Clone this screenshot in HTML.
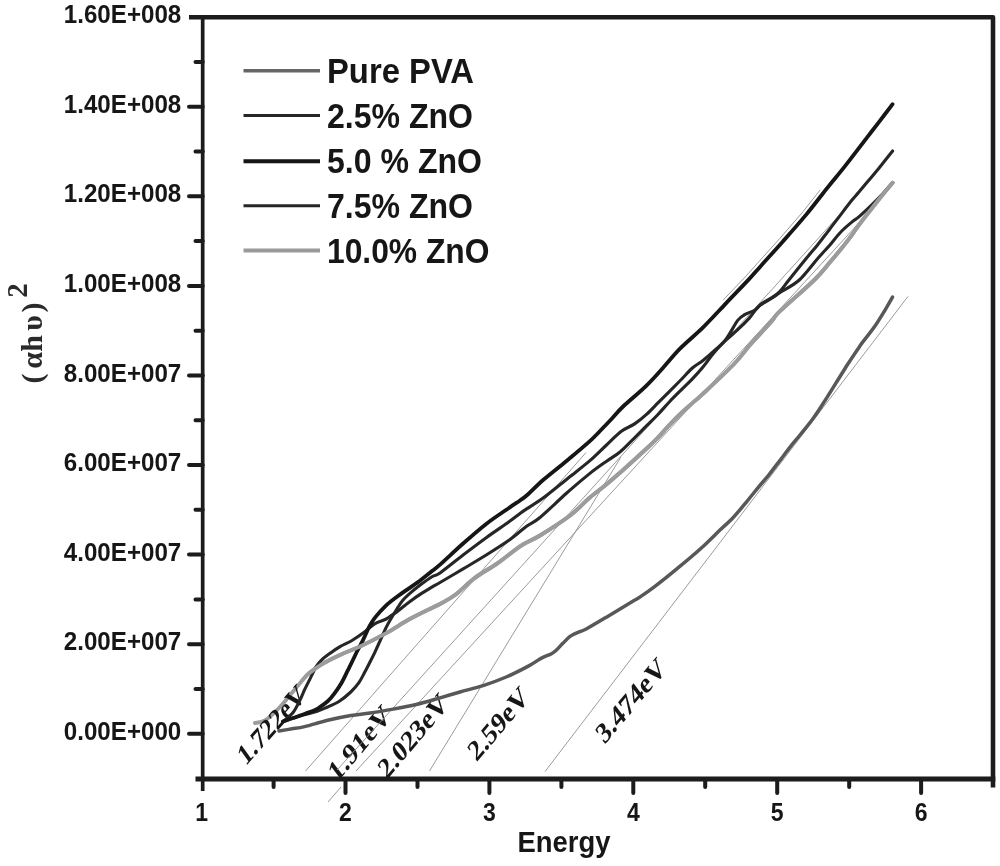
<!DOCTYPE html>
<html lang="en">
<head>
<meta charset="utf-8">
<title>Tauc plot</title>
<style>
html,body{margin:0;padding:0;background:#fff;}
body{width:1000px;height:866px;overflow:hidden;}
svg{display:block;}
</style>
</head>
<body>
<svg width="1000" height="866" viewBox="0 0 1000 866">
<rect width="1000" height="866" fill="#fff"/>
<g filter="url(#soft)">
<path d="M255.0 723.0C256.7 722.6 260.8 723.2 265.0 720.5C269.2 717.8 274.8 712.4 280.0 707.0C285.2 701.6 291.3 693.5 296.0 688.0C300.7 682.5 303.8 678.0 308.1 674.0C312.4 670.0 316.7 667.4 322.0 664.2C327.3 661.0 333.7 658.0 340.0 655.0C346.3 652.0 352.3 650.1 360.0 646.5C367.7 642.9 378.0 637.6 386.2 633.1C394.4 628.6 401.6 623.5 409.3 619.3C417.0 615.1 427.3 610.2 432.4 607.7C437.5 605.2 436.2 606.1 440.0 604.0C443.8 601.9 449.2 599.3 455.0 595.0C460.8 590.7 467.5 583.4 474.6 578.1C481.7 572.8 490.0 568.5 497.7 563.1C505.4 557.7 513.8 550.4 520.8 545.8C527.8 541.2 531.7 540.6 540.0 535.5C548.3 530.4 562.6 521.2 570.8 515.0C579.0 508.8 583.3 503.2 589.3 498.1C595.3 493.0 601.5 488.5 606.6 484.3C611.7 480.1 613.6 478.4 620.0 472.7C626.4 467.0 638.7 455.8 645.0 450.0C651.3 444.2 653.7 441.9 657.7 437.8C661.8 433.7 665.4 429.2 669.3 425.1C673.1 421.1 676.9 417.2 680.8 413.5C684.6 409.8 688.9 406.2 692.4 403.1C695.9 400.0 695.2 401.1 702.0 394.7C708.8 388.3 725.2 373.1 733.1 365.0C741.0 356.9 744.7 351.1 749.3 345.8C753.9 340.5 756.9 337.3 760.8 333.1C764.6 328.9 769.2 324.0 772.4 320.4C775.6 316.8 773.0 317.9 780.0 311.2C787.0 304.5 806.1 288.0 814.3 280.0C822.5 272.0 824.9 268.2 829.3 263.1C833.7 258.0 836.9 254.1 840.8 249.3C844.6 244.5 849.2 238.6 852.4 234.3C855.6 230.0 855.1 229.9 860.0 223.5C864.9 217.1 876.2 202.8 881.6 196.0C887.0 189.2 890.8 185.0 892.6 182.8" stroke="#9c9c9c" stroke-width="3.9" fill="none" stroke-linecap="round"/>
<g font-family="'Liberation Serif', 'Times New Roman', serif" font-weight="700" fill="#161616" font-size="26">
<text transform="translate(276.4 731.8) rotate(-48.4) skewX(-13)" x="0" y="0" text-anchor="middle" textLength="92.0" lengthAdjust="spacingAndGlyphs">1.722eV</text>
<text transform="translate(364.5 750.3) rotate(-50.0) skewX(-13)" x="0" y="0" text-anchor="middle" textLength="86.0" lengthAdjust="spacingAndGlyphs">1.91eV</text>
<text transform="translate(418.0 743.0) rotate(-50.0) skewX(-13)" x="0" y="0" text-anchor="middle" textLength="97.0" lengthAdjust="spacingAndGlyphs">2.023eV</text>
<text transform="translate(503.2 730.8) rotate(-50.0) skewX(-13)" x="0" y="0" text-anchor="middle" textLength="83.0" lengthAdjust="spacingAndGlyphs">2.59eV</text>
<text transform="translate(635.8 707.5) rotate(-50.0) skewX(-13)" x="0" y="0" text-anchor="middle" textLength="97.6" lengthAdjust="spacingAndGlyphs">3.474eV</text>
</g>
<g fill="none" stroke="#909090" stroke-width="0.9">
<path d="M305.5 771.0 L586.0 452.6"/>
<path d="M723.0 300.2 L746.1 276.0 L756.8 264.0 L779.9 238.3 L803.0 211.7 L820.3 189.8"/>
<path d="M337.0 770.0 L850.0 203.3"/>
<path d="M328.0 802.0 L341.0 787.0"/>
<path d="M356.0 771.0 L870.0 210.9"/>
<path d="M429.5 771.0 L621.0 456.9"/>
<path d="M545.0 771.6 L908.0 296.4"/>
</g>
<g fill="none" stroke-linecap="round" stroke-linejoin="round">
<path d="M279.0 731.0C281.2 730.6 287.7 729.5 292.0 728.8C296.3 728.1 298.7 728.0 304.6 726.6C310.6 725.2 320.0 722.1 327.7 720.2C335.4 718.4 343.8 716.7 350.8 715.5C357.9 714.3 362.9 714.2 370.0 713.1C377.1 712.0 385.4 710.5 393.1 709.1C400.8 707.7 408.5 706.3 416.2 704.5C423.9 702.7 432.0 700.2 439.3 698.1C446.6 696.0 452.7 694.1 460.0 692.0C467.3 689.9 475.4 688.1 483.1 685.6C490.8 683.1 498.5 680.3 506.2 677.0C513.9 673.7 523.5 668.7 529.3 665.6C535.1 662.5 537.3 660.4 541.0 658.4C544.7 656.4 548.8 655.2 551.5 653.7C554.2 652.2 555.1 651.3 557.0 649.5C558.9 647.7 560.9 645.3 563.1 643.1C565.3 640.9 567.5 638.2 570.0 636.4C572.5 634.6 575.3 633.5 578.0 632.3C580.7 631.1 581.0 631.8 586.2 629.0C591.4 626.2 601.6 620.0 609.3 615.4C617.0 610.8 627.3 604.7 632.4 601.6C637.5 598.5 636.3 599.5 640.0 597.0C643.7 594.5 648.3 591.4 654.6 586.6C660.9 581.8 670.0 574.5 677.7 568.1C685.4 561.8 693.8 554.9 700.8 548.5C707.8 542.1 714.8 535.0 720.0 530.0C725.2 525.0 727.9 523.1 732.3 518.5C736.7 513.9 742.0 507.4 746.2 502.3C750.4 497.2 753.9 492.8 757.7 488.1C761.6 483.4 765.4 479.1 769.3 474.3C773.1 469.5 776.9 464.3 780.8 459.3C784.6 454.3 789.2 448.2 792.4 444.2C795.6 440.1 796.5 439.3 800.0 435.0C803.5 430.7 809.0 424.1 813.1 418.5C817.2 412.9 820.8 407.2 824.6 401.2C828.5 395.2 832.4 388.9 836.2 382.7C840.1 376.5 843.9 370.2 847.7 364.2C851.6 358.2 856.7 350.7 859.3 346.9C861.9 343.1 860.5 345.0 863.1 341.6C865.7 338.2 870.8 332.2 874.6 326.6C878.5 321.0 883.2 313.0 886.2 308.1C889.2 303.2 891.5 298.9 892.5 297.1" stroke="#585858" stroke-width="3.5"/>
<path d="M283.0 721.5C284.7 720.0 290.3 716.1 293.1 712.5C295.9 708.9 298.1 703.8 300.0 700.0C301.9 696.2 302.9 693.4 304.6 689.7C306.3 686.1 308.5 682.0 310.4 678.1C312.3 674.2 314.3 669.7 316.2 666.6C318.1 663.5 320.1 661.5 322.0 659.6C323.9 657.7 324.8 657.1 327.7 655.0C330.6 652.9 335.7 649.1 339.6 646.8C343.5 644.5 347.3 643.3 351.2 641.0C355.1 638.7 359.2 636.0 363.1 633.1C367.0 630.2 370.8 626.2 374.6 623.9C378.5 621.5 383.3 620.5 386.2 619.0C389.1 617.5 390.1 616.3 392.0 615.0C393.9 613.7 394.8 613.4 397.7 611.2C400.6 609.0 405.4 604.9 409.3 602.0C413.2 599.1 417.0 596.4 420.8 593.9C424.6 591.4 429.2 588.8 432.4 586.9C435.6 585.0 434.9 585.5 440.0 582.5C445.1 579.5 455.4 573.5 463.1 568.9C470.8 564.3 478.5 559.8 486.2 555.0C493.9 550.2 502.6 544.8 509.3 540.0C516.0 535.2 521.5 530.0 526.6 526.2C531.7 522.5 533.4 523.0 540.0 517.5C546.6 512.0 558.0 500.8 566.2 493.5C574.4 486.2 582.6 479.3 589.3 473.9C596.0 468.5 601.5 464.8 606.6 461.2C611.7 457.6 615.3 455.9 620.0 452.0C624.7 448.1 630.2 442.1 634.6 437.8C639.0 433.5 642.4 430.1 646.2 426.2C650.1 422.3 653.9 418.7 657.7 414.7C661.6 410.7 665.4 406.1 669.3 402.0C673.1 397.9 676.9 394.2 680.8 390.4C684.6 386.5 688.7 382.8 692.4 378.9C696.1 375.0 699.3 371.5 703.0 367.0C706.7 362.5 710.7 356.5 714.6 352.0C718.5 347.5 722.4 343.7 726.2 340.0C730.1 336.3 733.9 333.3 737.7 329.7C741.6 326.1 746.4 321.3 749.3 318.1C752.2 314.9 753.2 312.7 755.1 310.5C757.0 308.3 757.9 306.9 760.8 304.8C763.7 302.7 769.2 299.9 772.4 297.8C775.6 295.8 775.5 295.5 780.0 292.5C784.5 289.5 793.0 285.7 799.3 280.0C805.6 274.3 812.7 264.2 817.7 258.5C822.7 252.8 825.4 250.2 829.3 245.8C833.1 241.4 836.9 236.0 840.8 232.0C844.6 228.0 849.2 224.3 852.4 221.6C855.6 218.9 855.1 220.2 860.0 215.8C864.9 211.4 876.2 200.5 881.6 195.0C887.0 189.5 890.8 184.8 892.6 182.8" stroke="#262626" stroke-width="3.1"/>
<path d="M283.0 721.5C285.8 720.6 294.5 717.6 300.0 716.0C305.5 714.4 311.6 713.1 316.2 711.6C320.8 710.1 323.8 708.7 327.7 707.0C331.6 705.3 335.4 703.7 339.3 701.2C343.2 698.7 347.5 695.1 350.8 692.0C354.1 688.9 356.6 686.0 358.9 682.7C361.2 679.4 362.8 675.8 364.7 672.3C366.6 668.8 368.4 665.2 370.0 662.0C371.6 658.8 372.9 656.4 374.6 652.8C376.3 649.1 378.5 644.3 380.4 640.1C382.3 635.9 384.3 631.2 386.2 627.4C388.1 623.5 390.1 620.3 392.0 617.0C393.9 613.7 396.0 610.4 397.7 607.7C399.4 605.0 400.5 603.1 402.4 600.8C404.3 598.5 406.2 596.6 409.3 593.9C412.4 591.2 417.0 587.5 420.8 584.6C424.6 581.7 429.2 578.4 432.4 576.5C435.6 574.6 434.9 576.6 440.0 573.0C445.1 569.4 455.4 560.9 463.1 555.0C470.8 549.1 478.5 543.3 486.2 537.7C493.9 532.1 503.7 525.7 509.3 521.6C514.9 517.5 517.1 515.5 520.0 513.4C522.9 511.3 522.8 511.4 526.6 508.9C530.5 506.3 536.5 503.0 543.1 498.1C549.7 493.2 558.5 485.9 566.2 479.7C573.9 473.5 582.7 466.9 589.3 461.2C595.9 455.5 600.7 450.4 606.0 445.5C611.3 440.6 616.2 435.1 621.0 431.5C625.8 427.9 630.4 426.7 634.6 423.9C638.8 421.1 642.4 418.2 646.2 414.7C650.1 411.2 653.9 407.0 657.7 403.1C661.6 399.2 665.4 395.5 669.3 391.6C673.1 387.8 676.9 383.9 680.8 380.0C684.6 376.1 688.7 371.2 692.4 368.0C696.1 364.8 699.3 363.4 703.0 360.5C706.7 357.6 710.7 354.1 714.6 350.5C718.5 346.9 722.4 343.9 726.2 338.9C730.1 333.9 734.6 324.4 737.7 320.4C740.8 316.4 741.8 316.4 744.7 314.7C747.6 313.0 752.4 311.7 755.1 310.0C757.8 308.3 757.9 306.4 760.8 304.3C763.7 302.2 769.2 299.5 772.4 297.3C775.6 295.1 777.2 294.2 780.0 291.3C782.8 288.4 784.5 285.5 788.9 280.0C793.3 274.5 801.4 264.4 806.2 258.5C811.0 252.6 813.9 249.5 817.7 244.7C821.6 239.9 825.4 234.7 829.3 229.7C833.1 224.7 836.9 219.6 840.8 214.6C844.6 209.6 849.4 203.3 852.4 199.6C855.4 195.9 856.0 195.5 858.5 192.5C861.0 189.5 864.2 185.7 867.7 181.6C871.2 177.5 875.1 172.8 879.3 167.7C883.4 162.6 890.4 153.8 892.6 151.0" stroke="#262626" stroke-width="3.1"/>
<path d="M283.0 721.5C284.7 720.9 289.4 719.3 293.0 718.0C296.6 716.7 300.7 715.4 304.6 713.9C308.5 712.4 312.4 711.4 316.2 709.3C320.0 707.2 324.6 703.9 327.7 701.2C330.8 698.5 332.4 696.2 334.7 693.1C337.0 690.0 339.5 686.4 341.6 682.7C343.7 679.1 345.5 675.0 347.4 671.2C349.3 667.4 351.2 663.5 352.9 660.0C354.6 656.5 355.8 653.8 357.5 650.5C359.2 647.2 361.1 644.0 363.0 640.1C364.9 636.2 367.0 631.1 368.9 627.4C370.8 623.7 371.7 621.8 374.6 618.1C377.5 614.4 382.4 609.0 386.2 605.4C390.0 601.8 393.8 599.1 397.7 596.2C401.6 593.3 405.4 590.8 409.3 588.1C413.2 585.4 417.0 582.9 420.8 580.0C424.6 577.1 429.2 573.4 432.4 570.8C435.6 568.2 434.9 569.1 440.0 564.6C445.1 560.1 455.4 550.3 463.1 543.5C470.8 536.7 478.5 529.9 486.2 523.9C493.9 517.9 503.7 511.6 509.3 507.7C514.9 503.8 516.9 502.7 520.0 500.5C523.1 498.3 523.9 497.9 527.8 494.5C531.6 491.1 536.7 485.6 543.1 480.0C549.5 474.4 558.5 467.6 566.2 461.2C573.9 454.8 583.7 446.6 589.3 441.6C594.9 436.6 596.2 434.9 600.0 431.0C603.8 427.1 608.1 422.6 612.0 418.5C615.9 414.4 617.4 411.9 623.1 406.5C628.8 401.1 639.5 392.3 646.2 385.8C652.9 379.3 657.9 373.5 663.5 367.3C669.1 361.1 673.4 355.2 680.0 348.6C686.6 342.0 695.4 335.0 703.1 327.4C710.8 319.8 718.5 311.2 726.2 303.1C733.9 295.0 743.7 284.9 749.3 278.9C754.9 272.9 754.4 273.2 760.0 266.9C765.6 260.6 775.4 249.9 783.1 241.2C790.8 232.5 799.5 222.7 806.2 214.6C812.9 206.5 819.0 198.4 823.5 192.7C828.0 187.0 830.0 184.7 833.5 180.3C837.0 176.0 840.8 171.4 844.6 166.6C848.4 161.8 852.4 156.6 856.2 151.6C860.1 146.6 863.9 141.6 867.7 136.6C871.6 131.6 875.1 127.0 879.3 121.6C883.4 116.2 890.4 107.1 892.6 104.2" stroke="#141414" stroke-width="3.8"/>
<path d="M308.1 674.0C310.4 672.4 316.7 667.4 322.0 664.2C327.3 661.0 333.7 658.0 340.0 655.0C346.3 652.0 352.3 650.1 360.0 646.5C367.7 642.9 378.0 637.6 386.2 633.1C394.4 628.6 401.6 623.5 409.3 619.3C417.0 615.1 427.3 610.2 432.4 607.7C437.5 605.2 436.2 606.1 440.0 604.0C443.8 601.9 449.2 599.3 455.0 595.0C460.8 590.7 467.5 583.4 474.6 578.1C481.7 572.8 490.0 568.5 497.7 563.1C505.4 557.7 513.8 550.4 520.8 545.8C527.8 541.2 531.7 540.6 540.0 535.5C548.3 530.4 562.6 521.2 570.8 515.0C579.0 508.8 583.3 503.2 589.3 498.1C595.3 493.0 601.5 488.5 606.6 484.3C611.7 480.1 613.6 478.4 620.0 472.7C626.4 467.0 638.7 455.8 645.0 450.0C651.3 444.2 653.7 441.9 657.7 437.8C661.8 433.7 665.4 429.2 669.3 425.1C673.1 421.1 676.9 417.2 680.8 413.5C684.6 409.8 688.9 406.2 692.4 403.1C695.9 400.0 695.2 401.1 702.0 394.7C708.8 388.3 725.2 373.1 733.1 365.0C741.0 356.9 744.7 351.1 749.3 345.8C753.9 340.5 756.9 337.3 760.8 333.1C764.6 328.9 769.2 324.0 772.4 320.4C775.6 316.8 773.0 317.9 780.0 311.2C787.0 304.5 806.1 288.0 814.3 280.0C822.5 272.0 824.9 268.2 829.3 263.1C833.7 258.0 836.9 254.1 840.8 249.3C844.6 244.5 849.2 238.6 852.4 234.3C855.6 230.0 855.1 229.9 860.0 223.5C864.9 217.1 876.2 202.8 881.6 196.0C887.0 189.2 890.8 185.0 892.6 182.8" stroke="#9c9c9c" stroke-width="3.9"/>
</g>
<g fill="none" stroke="#1c1c1c" stroke-linecap="butt">
<path d="M189 17.2 H993.0 V787.5" stroke-width="4.6" stroke-linejoin="round"/>
<path d="M202.7 17.2 V791" stroke-width="3.7"/>
<path d="M195.5 779.0 H995.3" stroke-width="4.8"/>
<path d="M189 733.8 H202.7 M189 644.2 H202.7 M189 554.6 H202.7 M189 465.0 H202.7 M189 375.5 H202.7 M189 285.9 H202.7 M189 196.3 H202.7 M189 106.8 H202.7 M195.5 689.0 H202.7 M195.5 599.4 H202.7 M195.5 509.8 H202.7 M195.5 420.3 H202.7 M195.5 330.7 H202.7 M195.5 241.1 H202.7 M195.5 151.5 H202.7 M195.5 62.0 H202.7 M345.5 779.0 V793 M489.4 779.0 V793 M633.3 779.0 V793 M777.2 779.0 V793 M921.1 779.0 V793 M273.6 779.0 V787 M417.5 779.0 V787 M561.4 779.0 V787 M705.2 779.0 V787 M849.2 779.0 V787" stroke-width="4" stroke-linecap="round"/>
</g>
<g font-family="'Liberation Sans', Arial, sans-serif" font-weight="700" fill="#161616">
<text x="181.3" y="739.8" font-size="26.5" text-anchor="end" textLength="117.5" lengthAdjust="spacingAndGlyphs">0.00E+000</text>
<text x="181.3" y="650.2" font-size="26.5" text-anchor="end" textLength="117.5" lengthAdjust="spacingAndGlyphs">2.00E+007</text>
<text x="181.3" y="560.6" font-size="26.5" text-anchor="end" textLength="117.5" lengthAdjust="spacingAndGlyphs">4.00E+007</text>
<text x="181.3" y="471.0" font-size="26.5" text-anchor="end" textLength="117.5" lengthAdjust="spacingAndGlyphs">6.00E+007</text>
<text x="181.3" y="381.5" font-size="26.5" text-anchor="end" textLength="117.5" lengthAdjust="spacingAndGlyphs">8.00E+007</text>
<text x="181.3" y="291.9" font-size="26.5" text-anchor="end" textLength="117.5" lengthAdjust="spacingAndGlyphs">1.00E+008</text>
<text x="181.3" y="202.3" font-size="26.5" text-anchor="end" textLength="117.5" lengthAdjust="spacingAndGlyphs">1.20E+008</text>
<text x="181.3" y="112.8" font-size="26.5" text-anchor="end" textLength="117.5" lengthAdjust="spacingAndGlyphs">1.40E+008</text>
<text x="181.3" y="23.2" font-size="26.5" text-anchor="end" textLength="117.5" lengthAdjust="spacingAndGlyphs">1.60E+008</text>
<text x="201.6" y="821" font-size="26.5" text-anchor="middle" textLength="12.8" lengthAdjust="spacingAndGlyphs">1</text>
<text x="345.5" y="821" font-size="26.5" text-anchor="middle" textLength="12.8" lengthAdjust="spacingAndGlyphs">2</text>
<text x="489.4" y="821" font-size="26.5" text-anchor="middle" textLength="12.8" lengthAdjust="spacingAndGlyphs">3</text>
<text x="633.3" y="821" font-size="26.5" text-anchor="middle" textLength="12.8" lengthAdjust="spacingAndGlyphs">4</text>
<text x="777.2" y="821" font-size="26.5" text-anchor="middle" textLength="12.8" lengthAdjust="spacingAndGlyphs">5</text>
<text x="921.1" y="821" font-size="26.5" text-anchor="middle" textLength="12.8" lengthAdjust="spacingAndGlyphs">6</text>
<text x="517.5" y="852" font-size="29" textLength="93" lengthAdjust="spacingAndGlyphs">Energy</text>
<path d="M243.5 70.8 H320" stroke="#666" stroke-width="3.4" fill="none"/>
<text x="327" y="83.2" font-size="34.8" textLength="147.0" lengthAdjust="spacingAndGlyphs">Pure PVA</text>
<path d="M243.5 115.6 H320" stroke="#262626" stroke-width="3.0" fill="none"/>
<text x="327" y="128.1" font-size="34.8" textLength="146.0" lengthAdjust="spacingAndGlyphs">2.5% ZnO</text>
<path d="M243.5 161.3 H320" stroke="#161616" stroke-width="4.0" fill="none"/>
<text x="327" y="173.0" font-size="34.8" textLength="155.0" lengthAdjust="spacingAndGlyphs">5.0 % ZnO</text>
<path d="M243.5 205.8 H320" stroke="#262626" stroke-width="3.0" fill="none"/>
<text x="327" y="217.9" font-size="34.8" textLength="146.0" lengthAdjust="spacingAndGlyphs">7.5% ZnO</text>
<path d="M243.5 250.6 H320" stroke="#9a9a9a" stroke-width="4.0" fill="none"/>
<text x="327" y="262.9" font-size="34.8" textLength="162.5" lengthAdjust="spacingAndGlyphs">10.0% ZnO</text>
</g>
<g transform="rotate(-90)" font-family="'Liberation Serif', 'Times New Roman', serif" font-weight="700" fill="#2a2a2a">
<text y="42.2" x="-383.4 -368.85 -351.75 -330.7 -312.4" font-size="30">(αhυ)</text>
<text y="27" x="-297.7" font-size="29">2</text>
</g>
</g>
<defs><filter id="soft" x="0" y="0" width="1000" height="866" filterUnits="userSpaceOnUse"><feGaussianBlur stdDeviation="0.55"/></filter></defs>
</svg>
</body>
</html>
